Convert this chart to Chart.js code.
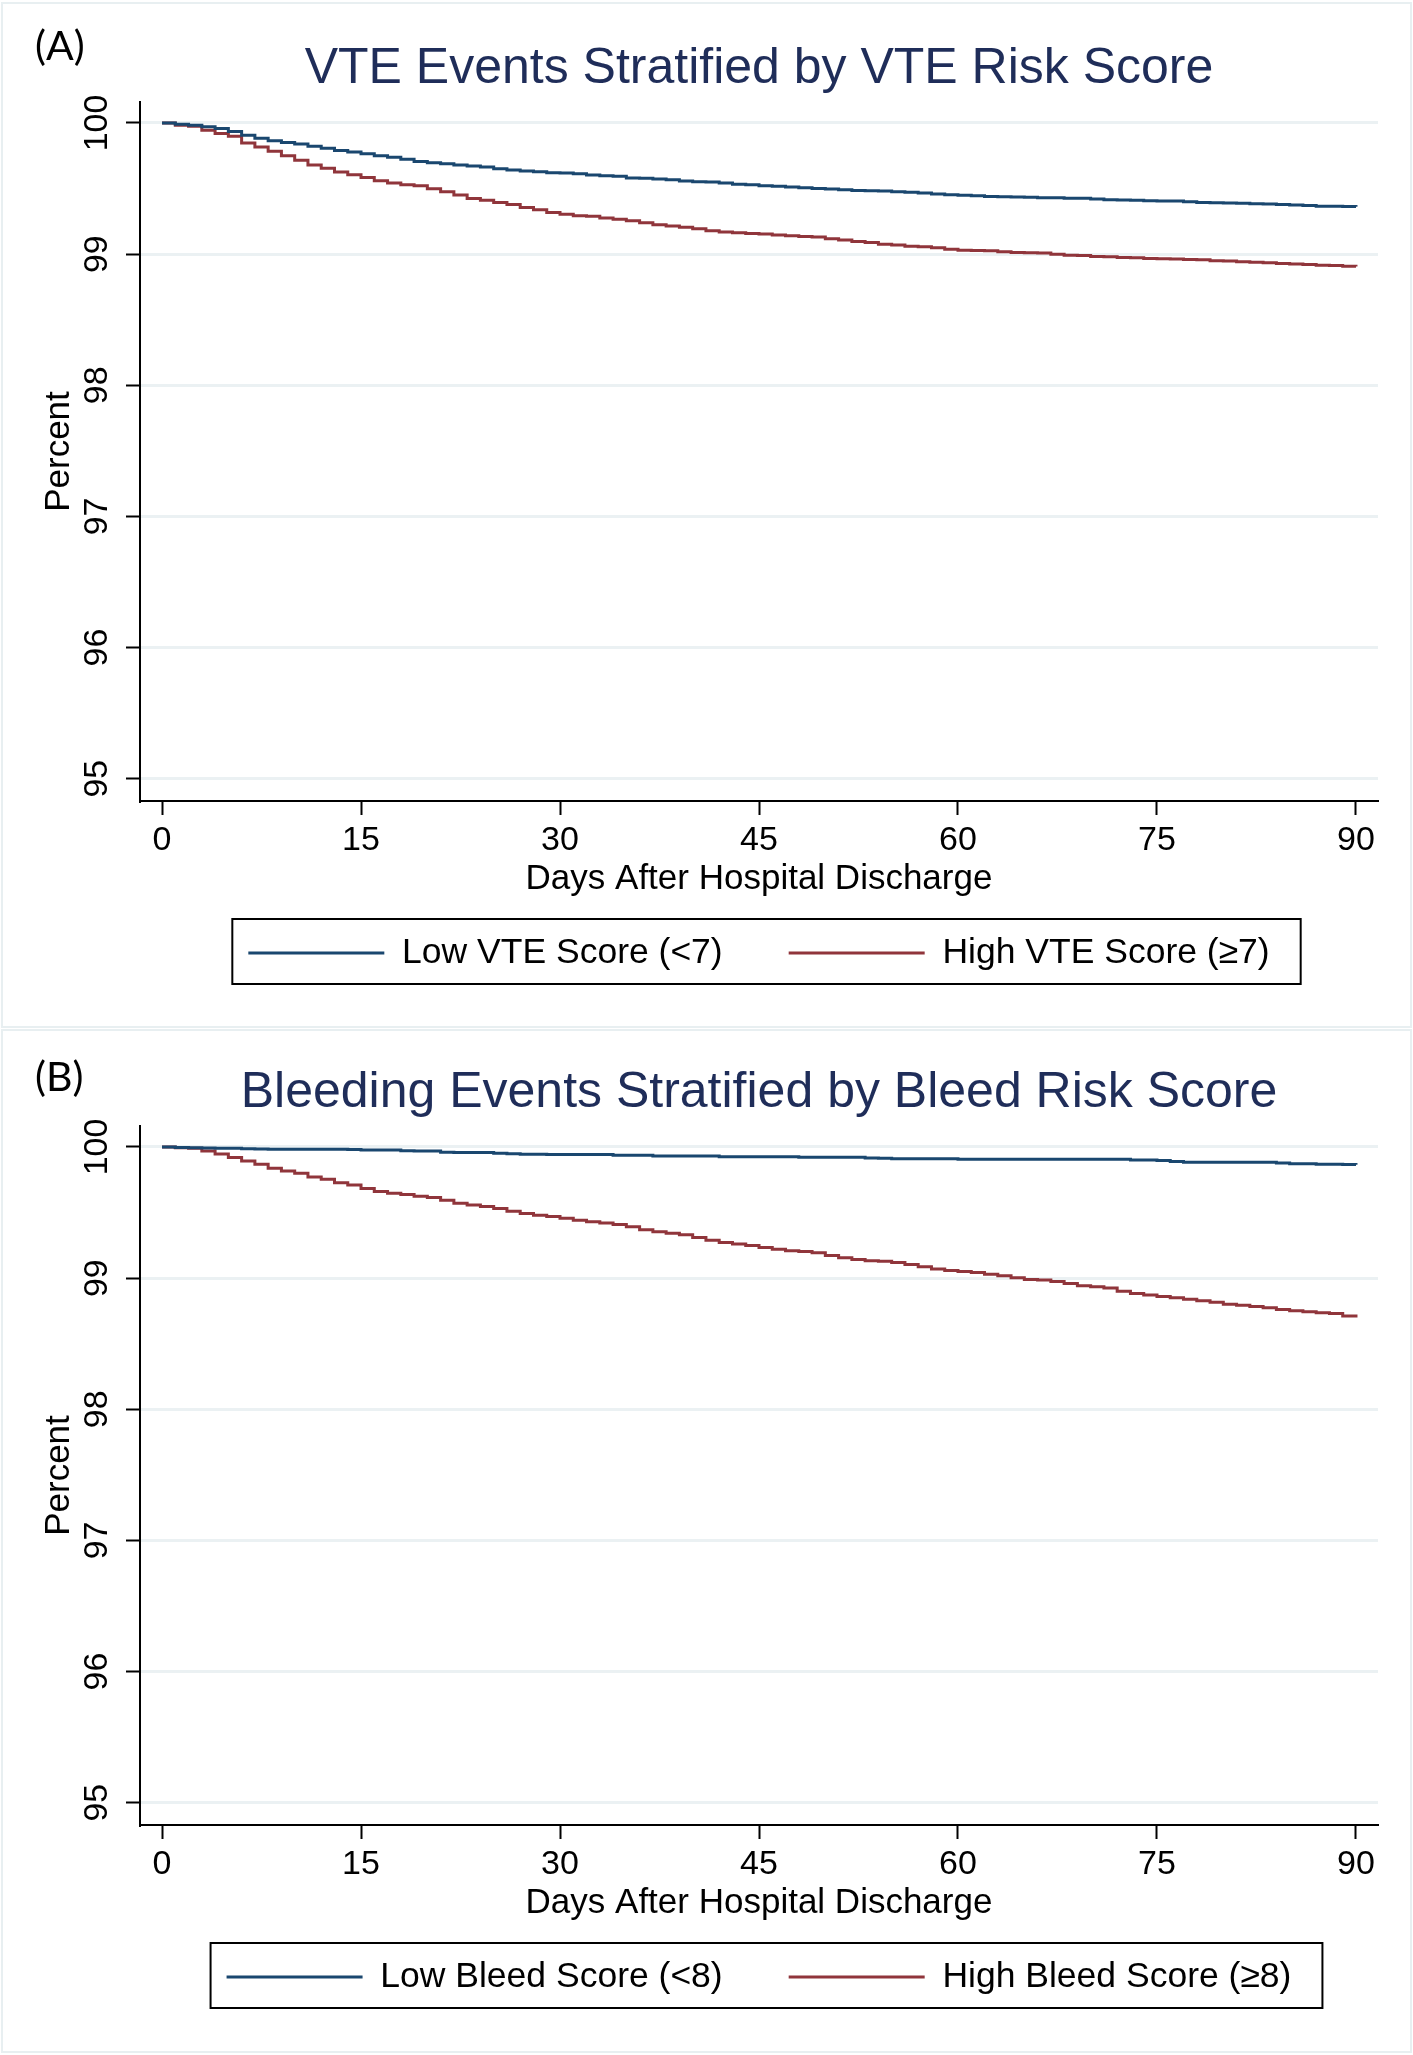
<!DOCTYPE html>
<html>
<head>
<meta charset="utf-8">
<script src="https://cdn.jsdelivr.net/npm/chart.js@4.4.1/dist/chart.umd.min.js"></script>
<style>
  html, body { margin: 0; padding: 0; background: #fff; }
  body { width: 1413px; height: 2055px; position: relative; overflow: hidden; }
  .panel { position: absolute; left: 1px; width: 1411px; box-sizing: border-box; border: 2px solid #e8eff1; }
  canvas { position: absolute; left: 0; }
  .tag { position: absolute; left: 35px; font-family: Lato, 'Open Sans', sans-serif; font-size: 41px; line-height: 1; color: #000; }
</style>
</head>
<body>
<div class="panel" style="top:2px;height:1026px"></div>
<div class="panel" style="top:1029px;height:1024px"></div>
<canvas id="chartA" width="1413" height="1025" style="top:0"></canvas>
<canvas id="chartB" width="1413" height="1025" style="top:1024px"></canvas>
<div class="tag" style="top:24px">(A)</div>
<div class="tag" style="top:1055px">(B)</div>

<script>
// Days after discharge (x values)
const days = [0,1,2,3,4,5,6,7,8,9,10,11,12,13,14,15,16,17,18,19,20,21,22,23,24,25,26,27,28,29,
  30,31,32,33,34,35,36,37,38,39,40,41,42,43,44,45,46,47,48,49,50,51,52,53,54,55,56,57,58,59,
  60,61,62,63,64,65,66,67,68,69,70,71,72,73,74,75,76,77,78,79,80,81,82,83,84,85,86,87,88,89,90];

const xTicks = [0, 15, 30, 45, 60, 75, 90];
const yTicks = [95, 96, 97, 98, 99, 100];

// Panel A - VTE score
const vteLabels = ['Low VTE Score (<7)', 'High VTE Score (≥7)'];
const vteLow = [100,99.990,99.982,99.972,99.957,99.936,99.906,99.883,99.865,99.852,99.840,99.822,99.807,99.791,99.779,
  99.766,99.751,99.738,99.723,99.707,99.697,99.690,99.679,99.672,99.664,99.651,99.641,99.634,99.628,99.621,
  99.618,99.613,99.603,99.598,99.593,99.580,99.578,99.573,99.567,99.557,99.552,99.550,99.542,99.532,99.529,
  99.522,99.517,99.511,99.506,99.501,99.496,99.491,99.486,99.483,99.481,99.476,99.471,99.466,99.458,99.452,
  99.448,99.446,99.440,99.438,99.435,99.433,99.430,99.430,99.427,99.427,99.420,99.415,99.412,99.410,99.407,
  99.405,99.405,99.400,99.394,99.392,99.389,99.387,99.384,99.382,99.379,99.374,99.371,99.366,99.366,99.364,99.361];
const vteHigh = [100,99.982,99.975,99.944,99.919,99.898,99.847,99.817,99.784,99.751,99.715,99.679,99.654,99.626,99.606,
  99.585,99.560,99.542,99.529,99.522,99.499,99.476,99.450,99.425,99.410,99.394,99.379,99.356,99.338,99.318,
  99.305,99.293,99.288,99.275,99.265,99.254,99.239,99.224,99.214,99.204,99.193,99.178,99.168,99.163,99.158,
  99.153,99.145,99.140,99.135,99.130,99.117,99.107,99.097,99.089,99.076,99.069,99.061,99.056,99.048,99.038,
  99.030,99.028,99.025,99.018,99.013,99.010,99.008,99.000,98.992,98.990,98.982,98.980,98.975,98.972,98.967,
  98.964,98.962,98.959,98.957,98.949,98.947,98.941,98.939,98.934,98.929,98.924,98.921,98.916,98.913,98.908,98.906];

// Panel B - Bleed score
const bleedLabels = ['Low Bleed Score (<8)', 'High Bleed Score (≥8)'];
const bleedLow = [100,99.997,99.995,99.992,99.990,99.990,99.987,99.985,99.982,99.982,99.982,99.982,99.982,99.982,99.980,
  99.977,99.977,99.977,99.972,99.970,99.970,99.959,99.957,99.957,99.957,99.952,99.949,99.944,99.944,99.942,
  99.942,99.942,99.942,99.942,99.937,99.937,99.937,99.931,99.931,99.931,99.931,99.931,99.926,99.926,99.926,
  99.926,99.926,99.926,99.921,99.921,99.921,99.921,99.921,99.916,99.914,99.911,99.911,99.911,99.911,99.911,
  99.906,99.906,99.906,99.906,99.906,99.906,99.906,99.906,99.906,99.906,99.906,99.906,99.906,99.901,99.901,
  99.896,99.890,99.883,99.883,99.883,99.883,99.883,99.883,99.883,99.878,99.873,99.873,99.868,99.868,99.866,99.865];
const bleedHigh = [100,99.995,99.990,99.970,99.947,99.919,99.893,99.868,99.838,99.817,99.799,99.772,99.754,99.728,99.711,
  99.683,99.660,99.647,99.637,99.624,99.614,99.594,99.571,99.558,99.546,99.530,99.510,99.492,99.480,99.470,
  99.457,99.442,99.429,99.421,99.409,99.391,99.368,99.353,99.343,99.330,99.310,99.289,99.272,99.261,99.249,
  99.234,99.221,99.208,99.203,99.193,99.173,99.155,99.142,99.132,99.129,99.119,99.104,99.086,99.069,99.058,
  99.050,99.043,99.030,99.018,99.003,98.990,98.985,98.975,98.959,98.942,98.934,98.924,98.900,98.883,98.871,
  98.860,98.850,98.838,98.827,98.817,98.800,98.794,98.784,98.774,98.761,98.751,98.744,98.736,98.731,98.712,98.700];

const fontFamily = "'Liberation Sans', Arial, Helvetica, sans-serif";
const lineColors = ['#1a476f', '#90353b'];
const titleColor = '#1f2d59';
const gridColor = '#ebf1f3';

// Marco negro alrededor de la leyenda (estilo Stata)
const legendFrame = {
  id: 'legendFrame',
  afterDraw(chart) {
    const boxes = chart.legend && chart.legend.legendHitBoxes;
    if (!boxes || !boxes.length) return;
    const left = Math.min(...boxes.map(b => b.left)) - 16;
    const right = Math.max(...boxes.map(b => b.left + b.width)) + 31;
    const mid = boxes[0].top + boxes[0].height / 2;
    const ctx = chart.ctx;
    ctx.save();
    ctx.strokeStyle = '#000';
    ctx.lineWidth = 2;
    ctx.strokeRect(left, mid - 34, right - left, 65);
    ctx.restore();
  }
};

function buildChart(canvasId, title, labels, low, high) {
  const ctx = document.getElementById(canvasId).getContext('2d');
  return new Chart(ctx, {
    type: 'line',
    data: {
      datasets: [low, high].map((vals, i) => ({
        label: labels[i],
        data: days.map((d, j) => ({ x: d, y: vals[j] })),
        borderColor: lineColors[i],
        backgroundColor: lineColors[i],
        borderWidth: 3,
        pointRadius: 0,
        stepped: true,
        fill: false
      }))
    },
    options: {
      responsive: false,
      animation: false,
      devicePixelRatio: 1,
      layout: { padding: { top: 0, left: 0, right: 35, bottom: 44.25 } },
      plugins: {
        title: {
          display: true,
          text: title,
          fullSize: false,
          color: titleColor,
          font: { family: fontFamily, size: 50, weight: 'normal' },
          padding: { top: 39, bottom: 3 }
        },
        legend: {
          position: 'bottom',
          fullSize: false,
          labels: {
            usePointStyle: true,
            pointStyle: 'line',
            pointStyleWidth: 136,
            color: '#000',
            font: { family: fontFamily, size: 35.5 },
            padding: 66
          }
        },
        tooltip: { enabled: false }
      },
      scales: {
        x: {
          type: 'linear',
          min: -1.66,
          max: 91.66,
          afterBuildTicks: s => { s.ticks = xTicks.map(v => ({ value: v })); },
          afterFit: s => { s.height = 68.25; },
          grid: { drawOnChartArea: false, tickLength: 14, tickColor: '#000', tickWidth: 2 },
          border: { color: '#000', width: 2 },
          ticks: { color: '#000', font: { family: fontFamily, size: 34 }, padding: 5, maxRotation: 0, autoSkip: false },
          title: {
            display: true,
            text: 'Days After Hospital Discharge',
            color: '#000',
            font: { family: fontFamily, size: 35 },
            padding: { top: 0, bottom: -30.75 }
          }
        },
        y: {
          type: 'linear',
          min: 94.83,
          max: 100.16,
          afterBuildTicks: s => { s.ticks = yTicks.map(v => ({ value: v })); },
          afterFit: s => { s.width = 140; },
          grid: { color: gridColor, lineWidth: 3, tickLength: 14, tickColor: '#000', tickWidth: 2 },
          border: { color: '#000', width: 2 },
          ticks: { color: '#000', font: { family: fontFamily, size: 34 }, padding: 0, minRotation: 90, maxRotation: 90, crossAlign: 'center' },
          title: {
            display: true,
            text: 'Percent',
            color: '#000',
            font: { family: fontFamily, size: 35 },
            padding: { top: 38, bottom: 0 }
          }
        }
      }
    },
    plugins: [legendFrame]
  });
}

buildChart('chartA', 'VTE Events Stratified by VTE Risk Score', vteLabels, vteLow, vteHigh);
buildChart('chartB', 'Bleeding Events Stratified by Bleed Risk Score', bleedLabels, bleedLow, bleedHigh);
</script>
</body>
</html>
